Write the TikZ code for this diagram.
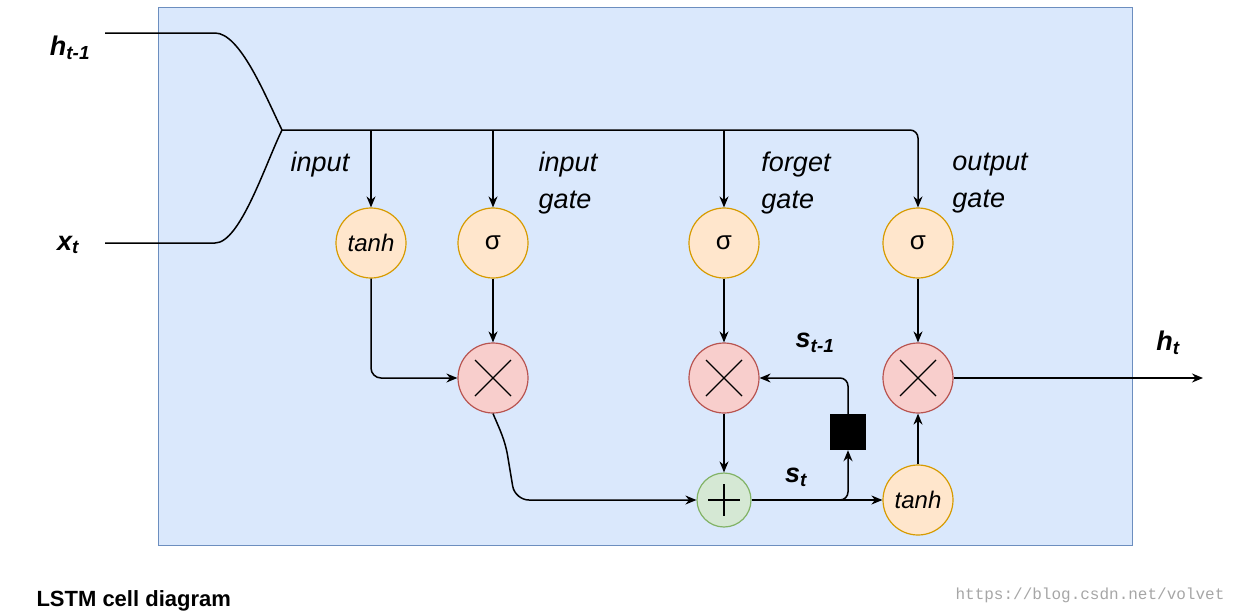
\documentclass[tikz,border=0pt]{standalone}
\usepackage{fontspec}
\setmainfont{Liberation Sans}
\newfontfamily\wmono{Liberation Mono}
\usetikzlibrary{arrows.meta}
\definecolor{bbg}{HTML}{DAE8FC}\definecolor{bbd}{HTML}{6C8EBF}
\definecolor{obg}{HTML}{FFE6CC}\definecolor{obd}{HTML}{D79B00}
\definecolor{rbg}{HTML}{F8CECC}\definecolor{rbd}{HTML}{B85450}
\definecolor{gbg}{HTML}{D5E8D4}\definecolor{gbd}{HTML}{82B366}
\begin{document}
\begin{tikzpicture}[x=1pt,y=-1pt,
  orc/.style={circle,draw=obd,fill=obg,line width=1.2pt,minimum size=70pt,inner sep=0pt,font=\fontsize{24}{24}\selectfont\itshape},
  sig/.style={orc,font=\fontsize{26}{26}\selectfont},
  rdc/.style={circle,draw=rbd,fill=rbg,line width=1.2pt,minimum size=70pt,inner sep=0pt},
  grc/.style={circle,draw=gbd,fill=gbg,line width=1.2pt,minimum size=54pt,inner sep=0pt},
  lbl/.style={font=\fontsize{27}{37}\selectfont\itshape,align=left},
  var/.style={font=\fontsize{27}{27}\selectfont\bfseries\itshape},
  arr/.style={draw,line width=1.5pt,-{Stealth[length=11pt,width=9pt]}},
  ln/.style={draw,line width=1.5pt}]
\useasboundingbox (0,0) rectangle (1240,614);
\node[draw=bbd,fill=bbg,line width=1.2pt,minimum width=974pt,minimum height=538pt,anchor=north west] (box) at (158,7) {};
\node[var] (hin) at (70,48) {h\textsubscript{t-1}};
\node[var] (xin) at (68,245) {x\textsubscript{t}};
\coordinate (hs) at (105,33);\coordinate (xs) at (105,243);\coordinate (j) at (282,130);
\draw[ln] (hs) -- (215,33) .. controls (240,33) and (265,95) .. (j);
\draw[ln] (xs) -- (215,243) .. controls (240,243) and (265,165) .. (j);
\node[orc] (t1) at (371,243) {tanh};
\node[sig] (s1) at (493,243) {σ};
\node[sig] (s2) at (724,243) {σ};
\node[sig] (s3) at (918,243) {σ};
\node[rdc] (m1) at (493,378) {};
\node[rdc] (m2) at (724,378) {};
\node[rdc] (m3) at (918,378) {};
\foreach \m in {m1,m2,m3}{\draw[line width=1.1pt] (\m.center)+(-18,-18) -- +(18,18) (\m.center)+(-18,18) -- +(18,-18);}
\node[grc] (p) at (724,500) {};
\draw[line width=1.1pt] (p.center)+(-16,0) -- +(16,0) (p.center)+(0,-16) -- +(0,16);
\node[orc] (t2) at (918,500) {tanh};
\node[fill=black,minimum size=36pt,inner sep=0pt] (sq) at (848,432) {};
\draw[arr,rounded corners=8pt] (j) -- (s3.north|-0,130) -- (s3.north);
\draw[arr] (t1.north|-0,130) -- (t1.north);
\draw[arr] (s1.north|-0,130) -- (s1.north);
\draw[arr] (s2.north|-0,130) -- (s2.north);
\draw[arr,rounded corners=10pt] (t1.south) -- (371,378) -- (m1.west);
\draw[arr] (s1) -- (m1);\draw[arr] (s2) -- (m2);\draw[arr] (s3) -- (m3);
\draw[arr,rounded corners=14pt] (m1.south) .. controls (500,430) and (505,440) .. (510,470) -- (515,500) -- (p.west);
\draw[arr] (m2) -- (p);
\draw[arr] (p) -- (t2);
\draw[arr,rounded corners=8pt] (800,500) -- (848,500) -- (sq.south);
\draw[arr,rounded corners=8pt] (sq.north) -- (848,378) -- (m2.east);
\draw[arr] (t2) -- (m3);
\coordinate (out) at (1203,378);
\draw[arr] (m3) -- (out);
\node[lbl] (l1) at (320,165) {input};
\node[lbl] (l2) at (568,183) {input\\gate};
\node[lbl] (l3) at (796,183) {forget\\gate};
\node[lbl] (l4) at (990,183) {output\\gate};
\node[var] (st1) at (815,343) {s\textsubscript{t-1}};
\node[var] (st) at (796,477) {s\textsubscript{t}};
\node[var] (ht) at (1168,343) {h\textsubscript{t}};
\node[font=\fontsize{22}{22}\selectfont\bfseries,anchor=west] (cap) at (33,601) {LSTM cell diagram};
\node[font=\wmono\fontsize{16}{16}\selectfont,text=gray!70] (wm) at (1090,595) {https://blog.csdn.net/volvet};
\end{tikzpicture}
\end{document}
